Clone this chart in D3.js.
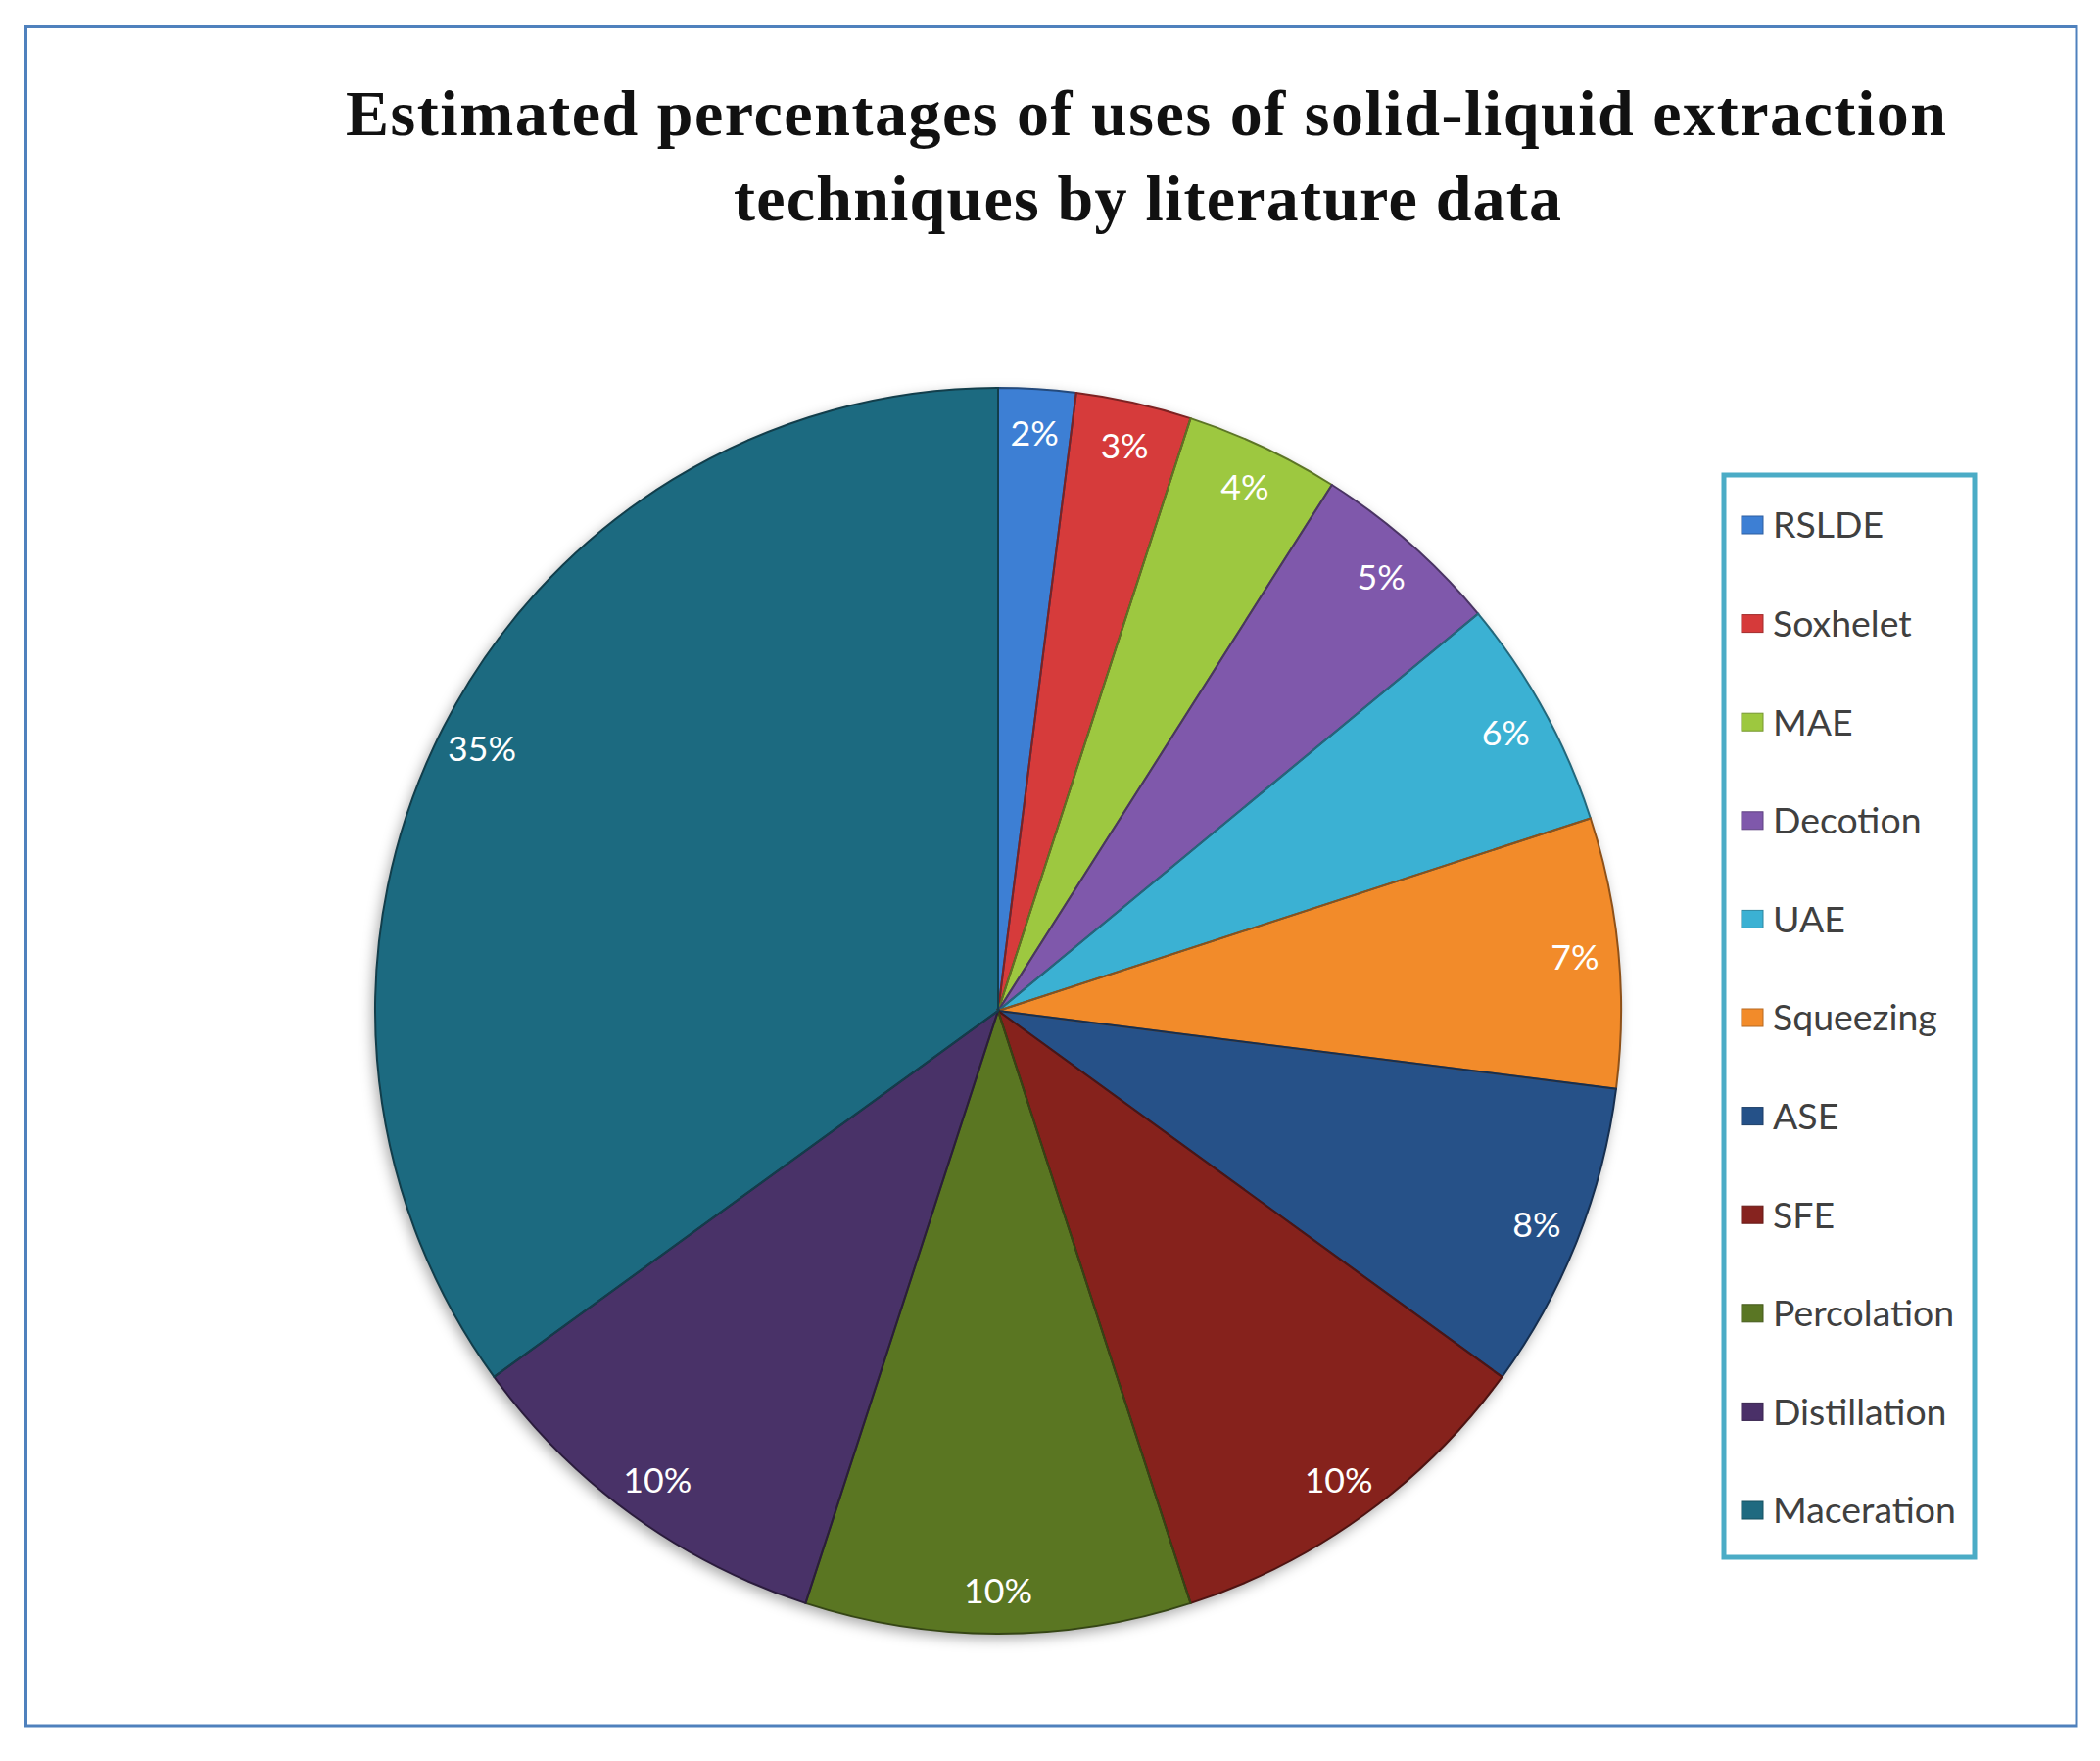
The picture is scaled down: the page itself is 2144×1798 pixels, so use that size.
<!DOCTYPE html>
<html><head><meta charset="utf-8">
<script src="https://cdn.jsdelivr.net/npm/d3@7"></script>
<style>html,body{margin:0;padding:0;background:#fff;} svg{display:block}</style>
</head><body>
<script>
const categories = ["RSLDE","Soxhelet","MAE","Decotion","UAE","Squeezing","ASE","SFE","Percolation","Distillation","Maceration"];
const values = [2,3,4,5,6,7,8,10,10,10,35];
const colors = ["#3d7fd4","#d63a3a","#9dc83f","#7f58ab","#3bb1d3","#f28b2a","#255188","#86231f","#5a7624","#4a3068","#1f6a80"];
const titleLines = ["Estimated percentages of uses of solid-liquid extraction","techniques by literature data"];

const W = 2144, H = 1798;
const svg = d3.select("body").append("svg").attr("width", W).attr("height", H);
const defs = svg.append("defs");

// outer frame
svg.append("rect").attr("x", 26.5).attr("y", 27.5).attr("width", 2120 - 26.5).attr("height", 1762 - 27.5)
  .attr("fill", "#fff").attr("stroke", "#4f81bd").attr("stroke-width", 3);

// title
const titleG = svg.append("g");
const titleSpec = [{cx: 1170, y: 138, w: 1634}, {cx: 1171.5, y: 225, w: 845}];
titleLines.forEach((t, i) => {
  const el = titleG.append("text").text(t)
    .attr("x", titleSpec[i].cx).attr("y", titleSpec[i].y)
    .attr("text-anchor", "middle")
    .style("font-family", "'Liberation Serif', 'DejaVu Serif', serif")
    .style("font-weight", "bold").style("font-size", "66px").attr("fill", "#111");
  const len = el.node().getComputedTextLength();
  const ls = (titleSpec[i].w - len) / (t.length - 1);
  el.style("letter-spacing", ls + "px");
  el.attr("x", titleSpec[i].cx + ls / 2);
});

// pie
const cx = 1019, cy = 1032, R = 636;
const pie = d3.pie().sort(null).value(d => d);
const arcs = pie(values);
const arc = d3.arc().innerRadius(0).outerRadius(R);
const labelArc = d3.arc().innerRadius(R * 0.93).outerRadius(R * 0.93);

const shadow = defs.append("filter").attr("id", "shadow").attr("x", "-10%").attr("y", "-10%").attr("width", "120%").attr("height", "120%");
shadow.append("feDropShadow").attr("dx", -3).attr("dy", 5).attr("stdDeviation", 7)
  .attr("flood-color", "#000").attr("flood-opacity", 0.35);

const pieG = svg.append("g").attr("transform", `translate(${cx},${cy})`);
const base = pieG.append("g").attr("filter", "url(#shadow)");
base.selectAll("path").data(arcs).join("path")
  .attr("d", arc).attr("fill", (d, i) => colors[i]);

// bevel highlights clipped to each slice
arcs.forEach((d, i) => {
  defs.append("clipPath").attr("id", "clip" + i)
    .append("path").attr("d", arc(d)).attr("transform", `translate(${cx},${cy})`);
});
const bevel = svg.append("g");
arcs.forEach((d, i) => {
  bevel.append("path").attr("d", arc(d)).attr("transform", `translate(${cx},${cy})`)
    .attr("clip-path", `url(#clip${i})`)
    .attr("fill", "none").attr("stroke", d3.color(colors[i]).brighter(0.8))
    .attr("stroke-opacity", 0.6).attr("stroke-width", 12);
});
pieG.append("g").selectAll("path").data(arcs).join("path")
  .attr("d", arc).attr("fill", "none")
  .attr("stroke", (d, i) => d3.color(colors[i]).darker(1.5)).attr("stroke-width", 2);

// percentage labels
const lab = pieG.append("g").selectAll("text").data(arcs).join("text")
  .attr("transform", d => `translate(${labelArc.centroid(d)})`)
  .attr("text-anchor", "middle").attr("dominant-baseline", "central")
  .style("font-family", "Lato, 'Open Sans', sans-serif").style("font-size", "36px")
  .attr("fill", "#fff")
  .text(d => d.data + "%");
{
  const n = lab.filter(d => d.data === 10).node();
  const w = n.getComputedTextLength();
  lab.style("font-size", (36 * 70 / w) + "px");
}

// legend
const lg = svg.append("g");
lg.append("rect").attr("x", 1760).attr("y", 485).attr("width", 2016 - 1760).attr("height", 1590 - 485)
  .attr("fill", "#fff").attr("stroke", "#4bacc6").attr("stroke-width", 5);
const rowY = d3.scalePoint().domain(categories).range([536, 1542]);
const items = lg.selectAll("g.item").data(categories).join("g").attr("class", "item")
  .attr("transform", d => `translate(0,${rowY(d)})`);
items.append("rect").attr("x", 1778).attr("y", -9).attr("width", 22).attr("height", 18)
  .attr("fill", (d, i) => colors[i]).attr("stroke", (d, i) => d3.color(colors[i]).darker(0.8)).attr("stroke-width", 1);
const lt = items.append("text").attr("x", 1810).attr("y", 0).attr("dy", "0.36em")
  .style("font-family", "Lato, 'Open Sans', sans-serif").style("font-size", "36px")
  .attr("fill", "#404040").text(d => d);
{
  const n = lt.filter(d => d === "Maceration").node();
  const w = n.getComputedTextLength();
  lt.style("font-size", (36 * 187 / w) + "px");
}
</script>
</body></html>
